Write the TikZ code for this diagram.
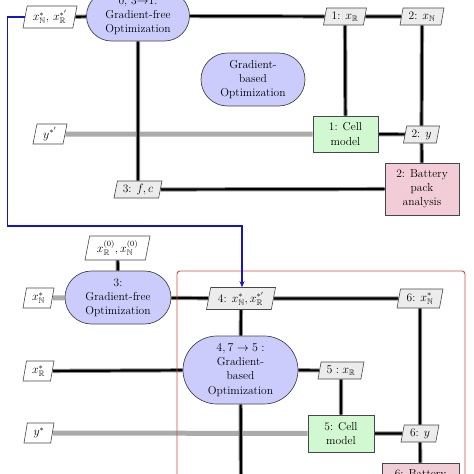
\documentclass[tikz,border=0pt]{standalone}
\usepackage{amssymb}
\usetikzlibrary{shapes.geometric,shapes.misc,backgrounds,arrows.meta}
\definecolor{optfill}{RGB}{204,204,252}
\definecolor{funcfill}{RGB}{210,248,210}
\definecolor{anafill}{RGB}{242,204,214}
\definecolor{datafill}{RGB}{236,236,236}
\definecolor{edgecol}{RGB}{70,70,80}
\definecolor{redbox}{RGB}{214,70,70}
\definecolor{blueline}{RGB}{20,20,200}
\tikzset{
  txt/.style={font=\fontsize{11.5}{14.2}\selectfont, align=center},
  optbox/.style={txt, rounded rectangle, draw=edgecol, fill=optfill, line width=0.7pt, inner sep=2pt},
  funcbox/.style={txt, rectangle, draw=edgecol, fill=funcfill, line width=0.7pt, inner sep=2pt},
  anabox/.style={txt, rectangle, draw=edgecol, fill=anafill, line width=0.7pt, inner sep=2pt},
  databox/.style={txt, trapezium, trapezium left angle=75, trapezium right angle=105,
    trapezium stretches body=true, draw=edgecol, fill=datafill, line width=0.6pt,
    inner xsep=2pt, inner ysep=1pt, minimum height=17pt},
  iobox/.style={databox, fill=white, minimum height=20pt},
  conn/.style={line width=2.2pt, black, preaction={draw, line width=4.2pt, color=black!45}},
  inconn/.style={line width=5pt, color=black!33},
}
\begin{document}
\begin{tikzpicture}[x=1pt,y=-1pt]
\useasboundingbox (0,0) rectangle (474,474);
\clip (0,0) rectangle (474,474);

% ---------- top diagram ----------
\node[optbox, minimum width=107pt, minimum height=50pt] (gf1) at (138,16) {0, 3$\to$1:\\Gradient-free\\Optimization};
\node[optbox, minimum width=108pt, minimum height=53pt] (gb1) at (253,79.5) {Gradient-\\based\\Optimization};
\node[funcbox, minimum width=65pt, minimum height=36pt] (cell1) at (345.5,134) {1: Cell\\model};
\node[anabox, minimum width=74pt, minimum height=52pt] (bat1) at (422,189) {2: Battery\\pack\\analysis};
\node[iobox, minimum width=54pt, minimum height=22pt] (out1) at (50,17) {$x^*_{\mathbb{N}},\, x^{*'}_{\mathbb{R}}$};
\node[databox, minimum width=43pt] (xr1) at (345,16.5) {1: $x_{\mathbb{R}}$};
\node[databox, minimum width=44pt] (xn1) at (422,16.5) {2: $x_{\mathbb{N}}$};
\node[databox, minimum width=36pt] (y1) at (421.5,134.5) {2: $y$};
\node[databox, minimum width=48pt] (fc1) at (138,189.5) {3: $f,c$};
\node[iobox, minimum width=34pt] (ys1) at (50,134) {$y^{*'}$};

% ---------- bottom diagram ----------
\node[iobox, minimum width=65pt, minimum height=24pt] (x0) at (117.5,248) {$x^{(0)}_{\mathbb{R}}, x^{(0)}_{\mathbb{N}}$};
\node[optbox, minimum width=110pt, minimum height=53pt] (gf2) at (118,297.5) {3:\\Gradient-free\\Optimization};
\node[iobox, minimum width=31pt] (xn2) at (38.5,298) {$x^*_{\mathbb{N}}$};
\node[databox, minimum width=69pt, minimum height=22pt] (d4) at (241,298.5) {4: $x^*_{\mathbb{N}}, x^{*'}_{\mathbb{R}}$};
\node[databox, minimum width=46pt, minimum height=19pt] (d6) at (420,298.5) {6: $x^*_{\mathbb{N}}$};
\node[optbox, minimum width=119pt, minimum height=68pt] (gb2) at (240.5,370) {$4,7\rightarrow5:$\\Gradient-\\based\\Optimization};
\node[iobox, minimum width=31pt] (xr2) at (38.5,371) {$x^*_{\mathbb{R}}$};
\node[databox, minimum width=46pt] (d5) at (341,370.5) {$5: x_{\mathbb{R}}$};
\node[funcbox, minimum width=66pt, minimum height=37pt] (cell2) at (341,433.5) {5: Cell\\model};
\node[iobox, minimum width=30pt] (ys2) at (39,433) {$y^*$};
\node[databox, minimum width=38pt] (y2) at (420,433.5) {6: $y$};
\node[anabox, minimum width=77pt, minimum height=52pt] (bat2) at (420.5,489) {6: Battery\\pack\\analysis};
\coordinate (fc2) at (241,500);

\begin{pgfonlayer}{background}
  % top connections
  \draw[inconn] (ys1) -- (cell1);
  \draw[conn] (gf1) -- (xr1);
  \draw[conn] (xr1) -- (xn1);
  \draw[conn] (out1) -- (gf1);
  \draw[conn] (gf1) -- (fc1);
  \draw[conn] (xr1) -- (cell1);
  \draw[conn] (xn1) -- (y1);
  \draw[conn] (y1) -- (bat1);
  \draw[conn] (cell1) -- (y1);
  \draw[conn] (fc1) -- (bat1);
  % bottom connections
  \draw[inconn] (xn2) -- (gf2);
  \draw[inconn] (ys2) -- (cell2);
  \draw[conn] (x0) -- (gf2);
  \draw[conn] (gf2) -- (d4);
  \draw[conn] (d4) -- (d6);
  \draw[conn] (d4) -- (gb2);
  \draw[conn] (gb2) -- (fc2);
  \draw[conn] (xr2) -- (gb2);
  \draw[conn] (gb2) -- (d5);
  \draw[conn] (d5) -- (cell2);
  \draw[conn] (cell2) -- (y2);
  \draw[conn] (d6) -- (y2);
  \draw[conn] (y2) -- (bat2);
\end{pgfonlayer}

% red group box
\node[draw=redbox, line width=0.9pt, rounded corners=3pt, minimum width=288pt, minimum height=240pt, inner sep=0pt] (grp) at (321,391) {};

% blue link
\draw[blueline, line width=1.4pt, -{Stealth[length=6pt,width=5pt]}] (out1.west) -- ++(-17,0) |- (242,226) -- (d4.north -| 242,0);
\end{tikzpicture}
\end{document}
